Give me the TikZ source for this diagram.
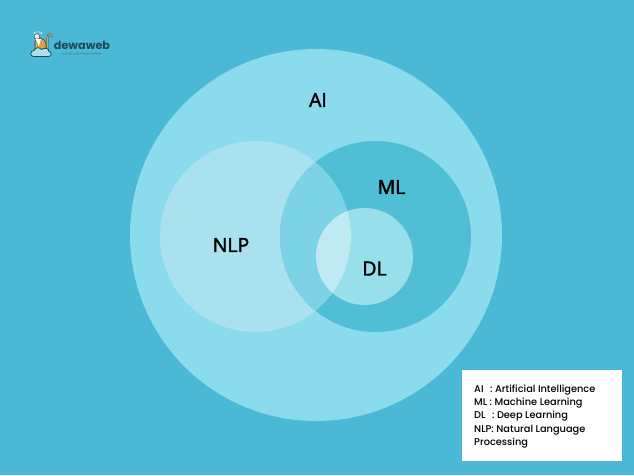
\documentclass[tikz,border=0pt]{standalone}
\usepackage{fontspec}
\setmainfont{Poppins Medium}
\newfontfamily\lblfont{Open Sans}
\newfontfamily\logofont{Poppins}
\newfontfamily\tagfont{Poppins}
\newcommand{\heavytext}[1]{\special{pdf:code 2 Tr 0.4 w}#1\special{pdf:code 0 Tr}}
\definecolor{bgc}{HTML}{4BB8D6}
\definecolor{aic}{HTML}{8ADBEB}
\definecolor{mlc}{HTML}{50BED5}
\definecolor{dlc}{HTML}{97E0EA}
\definecolor{nlpc}{HTML}{A9E2EE}
\definecolor{nmc}{HTML}{7CD3E6}
\definecolor{ndc}{HTML}{BFEAF3}
\definecolor{inkc}{HTML}{23475A}
\definecolor{robec}{HTML}{E0A040}
\tikzset{
  setlabel/.style={font=\lblfont\fontsize{19.5}{19.5}\selectfont, text=black, inner sep=0pt},
  legendline/.style={font=\fontsize{9.8}{9.8}\selectfont, text=black, inner sep=0pt, anchor=base west},
  legendbox/.style={fill=white, draw=none}
}
\begin{document}
\begin{tikzpicture}[x=1pt,y=-1pt]
\useasboundingbox (0,0) rectangle (634,475);
\fill[bgc] (0,0) rectangle (634,475);
% Venn regions
\fill[aic] (316,235) circle (186);
\fill[nlpc] (255.5,236.5) circle (95.5);
\fill[mlc] (375.5,236.5) circle (95.5);
\fill[dlc] (364.5,256.5) circle (48.5);
\begin{scope}
  \clip (255.5,236.5) circle (95.5);
  \fill[nmc] (375.5,236.5) circle (95.5);
  \fill[ndc] (364.5,256.5) circle (48.5);
\end{scope}
% labels
\node[setlabel] (ai) at (318,100) {\heavytext{AI}};
\node[setlabel] (ml) at (391.5,187) {\heavytext{ML}};
\node[setlabel] (dl) at (374.5,268.5) {\heavytext{DL}};
\node[setlabel] (nlp) at (231,245) {\heavytext{NLP}};
% legend
\node[legendbox, minimum width=160pt, minimum height=91pt, inner sep=0pt] (legend) at (541.5,415.5) {};
\node[legendline] (l1) at (474,392) {AI\hspace{4pt} : Artificial Intelligence};
\node[legendline] (l2) at (474,405) {ML : Machine Learning};
\node[legendline] (l3) at (474,418.5) {DL\hspace{4pt} : Deep Learning};
\node[legendline] (l4) at (474,432) {NLP: Natural Language};
\node[legendline] (l5) at (474,445.5) {Processing};
% logo
\draw[white!70!bgc, line width=0.6pt] (38,33) ellipse (4 and 1.2);
\fill[fill=robec, draw=inkc, line width=0.6pt] (35,50) -- (35,42) .. controls (35,39) and (37,38) .. (40,38) .. controls (43,38) and (45,40) .. (46,44) -- (46,50) -- cycle;
\fill[fill=white!80!robec, draw=inkc, line width=0.4pt] (37,36.5) circle (2.8);
\fill[white] (35.5,39) -- (41,39) -- (39,46) -- cycle;
\draw[inkc, line width=1.6pt] (47.5,51) -- (47.5,38) .. controls (47.5,33) and (52,33) .. (52,37);
\draw[robec, line width=0.9pt] (47.5,51) -- (47.5,38) .. controls (47.5,33) and (52,33) .. (52,37);
\fill[fill=white!55!bgc, draw=inkc, line width=0.8pt] (33.5,56.5) .. controls (29.5,56.5) and (30,50.5) .. (34,50.5) .. controls (35,47) and (40,47) .. (41.5,49.5) .. controls (44.5,47) and (49.5,48.5) .. (48.5,51) .. controls (52,52) and (52,56.5) .. (48.5,56.5) -- cycle;
\node[font=\logofont\bfseries\fontsize{11.2}{11.2}\selectfont, text=inkc, inner sep=0pt] (brand) at (82,45.5) {dewaweb};
\node[font=\tagfont\fontsize{3.4}{3.4}\selectfont, text=inkc!80, inner sep=0pt] (tag) at (82,54.5) {CLOUD HOSTING EXPERT};
\end{tikzpicture}
\end{document}
